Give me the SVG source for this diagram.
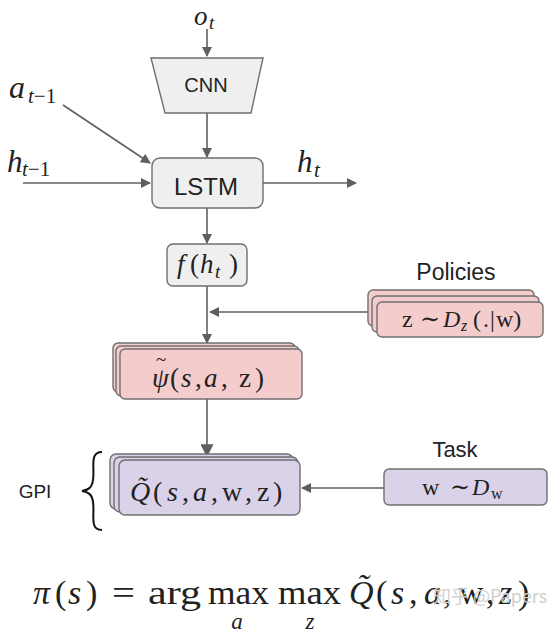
<svg xmlns="http://www.w3.org/2000/svg" width="554" height="636" viewBox="0 0 554 636">
<defs>
<marker id="ah" viewBox="0 0 10 10" refX="9" refY="5" markerWidth="10" markerHeight="10" markerUnits="userSpaceOnUse" orient="auto"><path d="M0,0 L10,5 L0,10 z" fill="#5f5f5f"/></marker>
<marker id="ah2" viewBox="0 0 10 10" refX="9" refY="5" markerWidth="13" markerHeight="13" markerUnits="userSpaceOnUse" orient="auto"><path d="M0,0 L10,5 L0,10 z" fill="#5f5f5f"/></marker>
</defs>
<style>
.ln{stroke:#606060;stroke-width:1.6;fill:none}
.gray{fill:#efefef;stroke:#6f6f6f;stroke-width:1.4}
.pink{fill:#f4cccc;stroke:#6f6f6f;stroke-width:1.4}
.purp{fill:#d9d2e9;stroke:#6f6f6f;stroke-width:1.4}
.sans{font-family:"Liberation Sans",Arial,sans-serif;fill:#222}
.r{font-family:"Liberation Serif","DejaVu Serif",serif;fill:#222}
.i{font-style:italic}
</style>
<rect width="554" height="636" fill="#ffffff"/>

<g id="connectors">
<line class="ln" x1="207" y1="29" x2="207" y2="56" marker-end="url(#ah)"/>
<line class="ln" x1="207" y1="113" x2="207" y2="157" marker-end="url(#ah)"/>
<line class="ln" x1="63" y1="105" x2="150" y2="163" marker-end="url(#ah)"/>
<line class="ln" x1="23" y1="183" x2="150" y2="183" marker-end="url(#ah)"/>
<line class="ln" x1="263" y1="183" x2="356" y2="183" marker-end="url(#ah)"/>
<line class="ln" x1="207" y1="208" x2="207" y2="243" marker-end="url(#ah)"/>
<line class="ln" x1="207" y1="286" x2="207" y2="343" marker-end="url(#ah)"/>
<line class="ln" x1="368" y1="312" x2="210" y2="312" marker-end="url(#ah)"/>
<line class="ln" x1="207" y1="399" x2="207" y2="456" stroke-width="2.6" marker-end="url(#ah2)"/>
<line class="ln" x1="384" y1="488" x2="302" y2="488" marker-end="url(#ah)"/>
</g>

<g id="o_t">
<text class="r i" x="194" y="25" font-size="27">o</text><text class="r i" x="209" y="29" font-size="19">t</text>
</g>

<g id="cnn">
<polygon class="gray" points="151,58 263,58 251,113 165,113"/>
<text class="sans" x="206" y="92" font-size="20" text-anchor="middle">CNN</text>
</g>

<g id="a_t-1">
<text class="r i" x="9" y="98" font-size="32">a</text><text class="r" x="28" y="103" font-size="21"><tspan class="i">t</tspan>−1</text>
</g>

<g id="h_t-1">
<text class="r i" x="7" y="172" font-size="31">h</text><text class="r" x="22" y="176" font-size="21"><tspan class="i">t</tspan>−1</text>
</g>

<g id="lstm">
<rect class="gray" x="152" y="158" width="111" height="50" rx="8"/>
<text class="sans" x="206" y="195" font-size="24" text-anchor="middle">LSTM</text>
</g>

<g id="h_t">
<text class="r i" x="297" y="172" font-size="31">h</text><text class="r i" x="314" y="177" font-size="21">t</text>
</g>

<g id="f_ht">
<rect class="gray" x="167" y="244" width="80" height="42" rx="6"/>
<text class="r" y="273" font-size="27"><tspan class="i" x="177">f</tspan><tspan x="190">(</tspan><tspan class="i" x="200">h</tspan><tspan class="i" x="215" y="278" font-size="19">t</tspan><tspan x="229" y="273">)</tspan></text>
</g>

<g id="policies">
<text class="sans" x="456" y="280" font-size="23" text-anchor="middle">Policies</text>
<rect class="pink" x="368" y="290" width="166" height="36" rx="5"/>
<rect class="pink" x="372" y="296" width="167" height="36" rx="5"/>
<rect class="pink" x="377" y="302" width="166" height="35" rx="5"/>
<text class="r" y="327" font-size="24"><tspan x="402">z</tspan><tspan x="420">∼</tspan><tspan class="i" x="443">D</tspan><tspan class="i" x="461" y="331" font-size="16">z</tspan><tspan x="473" y="327">(</tspan><tspan x="483">.</tspan><tspan x="490">|</tspan><tspan x="496">w)</tspan></text>
</g>

<g id="psi">
<rect class="pink" x="113" y="343" width="182" height="49" rx="5"/>
<rect class="pink" x="116" y="346" width="183" height="50" rx="5"/>
<rect class="pink" x="120" y="349" width="182" height="50" rx="5"/>
<text class="r" y="387" font-size="27"><tspan class="i" x="152">ψ</tspan><tspan x="170">(</tspan><tspan class="i" x="181">s</tspan><tspan x="195">,</tspan><tspan class="i" x="204">a</tspan><tspan x="221">,</tspan><tspan x="239">z</tspan><tspan x="255">)</tspan></text>
<text class="r" x="156" y="366" font-size="19">~</text>
</g>

<g id="gpi">
<text class="sans" x="35" y="498" font-size="19" text-anchor="middle">GPI</text>
<path d="M102,452 C89,452 95,468 93,480 C92,488 88,490 82,491 C88,492 92,494 93,502 C95,514 89,530 102,530" fill="none" stroke="#111" stroke-width="2"/>
</g>

<g id="q">
<rect class="purp" x="110" y="454" width="183" height="55" rx="6"/>
<rect class="purp" x="114" y="457" width="184" height="55" rx="6"/>
<rect class="purp" x="119" y="460" width="181" height="55" rx="6"/>
<text class="r" y="501" font-size="28"><tspan class="i" x="130">Q̃</tspan><tspan x="153">(</tspan><tspan class="i" x="167">s</tspan><tspan x="182">,</tspan><tspan class="i" x="193">a</tspan><tspan x="211">,</tspan><tspan x="222">w</tspan><tspan x="245">,</tspan><tspan x="257">z</tspan><tspan x="273">)</tspan></text>
</g>

<g id="task">
<text class="sans" x="455" y="457" font-size="22" text-anchor="middle">Task</text>
<rect class="purp" x="384" y="469" width="163" height="36" rx="5"/>
<text class="r" y="495" font-size="24"><tspan x="422">w</tspan><tspan x="450">∼</tspan><tspan class="i" x="472">D</tspan><tspan x="491" y="499" font-size="16">w</tspan></text>
</g>

<g id="formula">
<text class="r" y="604" font-size="34"><tspan class="i" x="33">π</tspan><tspan x="55">(</tspan><tspan class="i" x="68">s</tspan><tspan x="86">)</tspan><tspan x="112" textLength="23" lengthAdjust="spacingAndGlyphs">=</tspan><tspan x="148" textLength="53" lengthAdjust="spacingAndGlyphs">arg</tspan><tspan x="208" textLength="61" lengthAdjust="spacingAndGlyphs">max</tspan><tspan x="278" textLength="63" lengthAdjust="spacingAndGlyphs">max</tspan><tspan class="i" x="349">Q̃</tspan><tspan x="376">(</tspan><tspan class="i" x="391">s</tspan><tspan x="409">,</tspan><tspan class="i" x="424">a</tspan><tspan x="443">,</tspan><tspan x="459">w</tspan><tspan x="486">,</tspan><tspan class="i" x="499">z</tspan><tspan x="518">)</tspan></text>
<text class="r i" x="237" y="629" font-size="23" text-anchor="middle">a</text>
<text class="r i" x="310" y="629" font-size="23" text-anchor="middle">z</text>
<text x="433" y="603" font-size="18" fill="#cfcfcf" font-family="'Noto Sans CJK SC','Liberation Sans',sans-serif">知乎 @Papers</text>
</g>
</svg>
